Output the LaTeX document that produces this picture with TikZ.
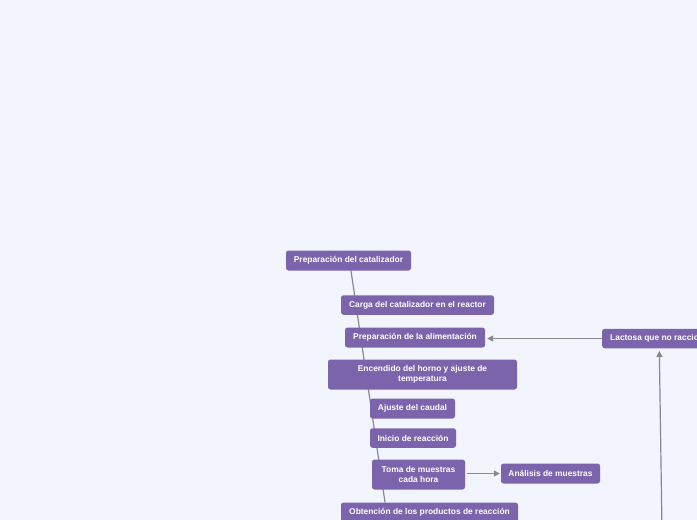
\documentclass[tikz,border=0pt]{standalone}
\usepackage{fontspec}
\setmainfont{Liberation Sans}
\usetikzlibrary{arrows.meta,calc}
\definecolor{bg}{RGB}{243,245,254}
\definecolor{nodefill}{RGB}{123,100,172}
\definecolor{linec}{RGB}{136,136,142}
\pgfdeclarelayer{bgl}
\pgfdeclarelayer{edges}
\pgfsetlayers{bgl,edges,main}
\begin{document}
\begin{tikzpicture}[x=1pt,y=-1pt,
  box/.style={fill=nodefill, rounded corners=2.5pt, text=white,
    font=\fontsize{8.4}{10}\selectfont\bfseries, inner sep=0pt, align=center},
  conn/.style={draw=linec, line width=1.2pt},
  arr/.style={conn, -{Triangle[length=6pt,width=6pt]}}]
\useasboundingbox (0,0) rectangle (697,520);
\begin{pgfonlayer}{bgl}
\fill[bg] (0,0) rectangle (697,520);
\end{pgfonlayer}
\node[box, minimum width=125, minimum height=20] (n1) at (348.5,260.5) {Preparación del catalizador};
\node[box, minimum width=153, minimum height=19.5] (n2) at (417.5,305) {Carga del catalizador en el reactor};
\node[box, minimum width=140, minimum height=20] (n3) at (415,337.5) {Preparación de la alimentación};
\node[box, minimum width=189, minimum height=30] (n4) at (422.5,374.5) {Encendido del horno y ajuste de\\temperatura};
\node[box, minimum width=85, minimum height=20] (n5) at (412.5,408.5) {Ajuste del caudal};
\node[box, minimum width=86, minimum height=19.5] (n6) at (413,438) {Inicio de reacción};
\node[box, minimum width=93, minimum height=30] (n7) at (418.5,474.5) {Toma de muestras\\cada hora};
\node[box, minimum width=99, minimum height=20] (n8) at (550.5,473.5) {Análisis de muestras};
\node[box, minimum width=177, minimum height=20] (n9) at (429.5,512.5) {Obtención de los productos de reacción};
\node[box, anchor=west, inner xsep=8pt, minimum height=19.5] (n10) at (602,338.5) {Lactosa que no racciona};
\coordinate (src) at (662,530);
\begin{pgfonlayer}{edges}
\draw[conn] ([xshift=2.5pt]n1.south) -- ([xshift=-44.5pt]n9.north);
\draw[arr, shorten >=2pt] (n10.west) -- (n10.west -| n3.east);
\draw[arr, shorten <=2pt, shorten >=1pt] (n7.east |- n8.west) -- (n8.west);
\draw[arr, shorten >=2.5pt] (src) -- ([xshift=57.3pt]n10.south west);
\end{pgfonlayer}
\end{tikzpicture}
\end{document}
